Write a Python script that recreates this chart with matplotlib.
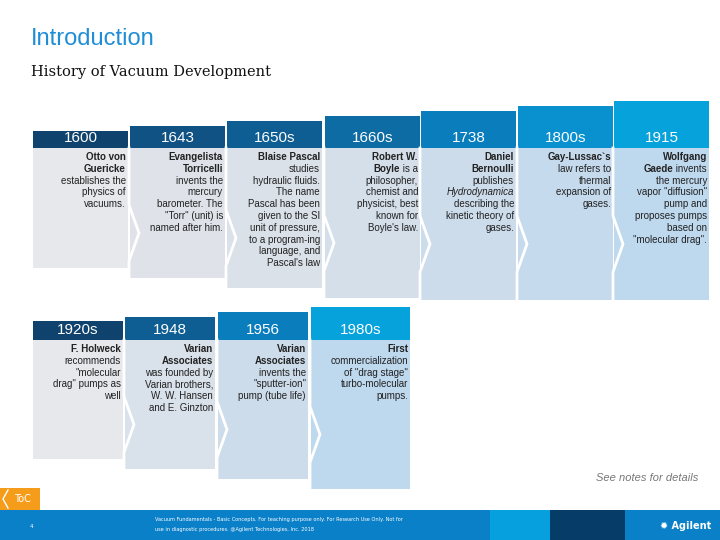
import matplotlib
matplotlib.use("Agg")
import matplotlib.pyplot as plt
from matplotlib.patches import Rectangle

# ---- content ----
top_years = ["1600", "1643", "1650s", "1660s", "1738", "1800s", "1915"]
top_texts = [
    [[("Otto von", "bold")], [("Guericke", "bold")], [("establishes the", "normal")],
     [("physics of", "normal")], [("vacuums.", "normal")]],
    [[("Evangelista", "bold")], [("Torricelli", "bold")], [("invents the", "normal")],
     [("mercury", "normal")], [("barometer. The", "normal")], [("\"Torr\" (unit) is", "normal")],
     [("named after him.", "normal")]],
    [[("Blaise Pascal", "bold")], [("studies", "normal")], [("hydraulic fluids.", "normal")],
     [("The name", "normal")], [("Pascal has been", "normal")], [("given to the SI", "normal")],
     [("unit of pressure,", "normal")], [("to a program-ing", "normal")],
     [("language, and", "normal")], [("Pascal's law", "normal")]],
    [[("Robert W.", "bold")], [("Boyle", "bold"), (" is a", "normal")], [("philosopher,", "normal")],
     [("chemist and", "normal")], [("physicist, best", "normal")], [("known for", "normal")],
     [("Boyle's law.", "normal")]],
    [[("Daniel", "bold")], [("Bernoulli", "bold")], [("publishes", "normal")],
     [("Hydrodynamica", "italic")], [("describing the", "normal")],
     [("kinetic theory of", "normal")], [("gases.", "normal")]],
    [[("Gay-Lussac`s", "bold")], [("law refers to", "normal")], [("thermal", "normal")],
     [("expansion of", "normal")], [("gases.", "normal")]],
    [[("Wolfgang", "bold")], [("Gaede", "bold"), (" invents", "normal")], [("the mercury", "normal")],
     [("vapor \"diffusion\"", "normal")], [("pump and", "normal")], [("proposes pumps", "normal")],
     [("based on", "normal")], [("\"molecular drag\".", "normal")]],
]
bot_years = ["1920s", "1948", "1956", "1980s"]
bot_texts = [
    [[("F. Holweck", "bold")], [("recommends", "normal")], [("\"molecular", "normal")],
     [("drag\" pumps as", "normal")], [("well", "normal")]],
    [[("Varian", "bold")], [("Associates", "bold")], [("was founded by", "normal")],
     [("Varian brothers,", "normal")], [("W. W. Hansen", "normal")], [("and E. Ginzton", "normal")]],
    [[("Varian", "bold")], [("Associates", "bold")], [("invents the", "normal")],
     [("\"sputter-ion\"", "normal")], [("pump (tube life)", "normal")]],
    [[("First", "bold")], [("commercialization", "normal")], [("of \"drag stage\"", "normal")],
     [("turbo-molecular", "normal")], [("pumps.", "normal")]],
]

# ---- layout ----
top_x = [33, 130, 227, 325, 421, 518, 614]
top_w = 95
top_htop = [131, 126, 121, 116, 111, 106, 101]
top_bottom = [268, 278, 288, 298, 300, 300, 300]
bot_x = [33, 125, 218, 311]
bot_w = [90, 90, 90, 99]
bot_htop = [321, 317, 312, 307]
bot_bottom = [459, 469, 479, 489]
head_cols_top = ["#0f426d", "#105283", "#0f5e93", "#0d6ca4", "#0a7dbc", "#0890cf", "#06a2dc"]
body_cols_top = ["#e6e8ec", "#dfe3e9", "#dae1e9", "#d4dfea", "#cddceb", "#c5daed", "#bed8ee"]
head_cols_bot = ["#0f426d", "#0f5e93", "#0a7dbc", "#06a2dc"]
body_cols_bot = ["#e6e8ec", "#d9e1ea", "#cddceb", "#bed8ee"]

fig = plt.figure(figsize=(7.2, 5.4), dpi=100)
ax = fig.add_axes([0, 0, 1, 1])
ax.set_xlim(0, 720)
ax.set_ylim(540, 0)
ax.axis("off")
renderer = fig.canvas.get_renderer()

FS = 7


def draw_lines(xr, ytop, lines):
    for i, segs in enumerate(lines):
        y = ytop + i * 11.8
        x = xr
        for txt, style in reversed(segs):
            t = ax.text(x, y, txt, ha="right", va="top", fontsize=FS, color="#222222",
                        family="Liberation Sans",
                        fontweight="bold" if style == "bold" else "normal",
                        fontstyle="italic" if style == "italic" else "normal")
            bb = t.get_window_extent(renderer)
            x -= bb.width  # pixels == data units here


def chevron(x, top, bottom):
    mid = (top + bottom) / 2 + 20
    ax.plot([x, x, x + 10, x, x], [top, mid - 28, mid, mid + 28, bottom],
            color="white", lw=2, solid_joinstyle="miter")


def panel(x, w, htop, hbot, bottom, year, lines, hc, bc, first):
    ax.add_patch(Rectangle((x, hbot), w, bottom - hbot, color=bc, lw=0))
    ax.add_patch(Rectangle((x, htop), w, hbot - htop, color=hc, lw=0))
    ax.text(x + w / 2, hbot - 3, year, ha="center", va="bottom", fontsize=11,
            color="white", family="Liberation Sans")
    draw_lines(x + w - 2, hbot + 4, lines)
    if not first:
        chevron(x - 1, hbot, bottom)


for i in range(len(top_years)):
    panel(top_x[i], top_w, top_htop[i], 148, top_bottom[i], top_years[i], top_texts[i],
          head_cols_top[i], body_cols_top[i], i == 0)
for i in range(len(bot_years)):
    panel(bot_x[i], bot_w[i], bot_htop[i], 340, bot_bottom[i], bot_years[i], bot_texts[i],
          head_cols_bot[i], body_cols_bot[i], i == 0)

ax.text(31, 39, "Introduction", fontsize=17, color="#1f8ed6", va="center", ha="left",
        family="Liberation Sans")
ax.text(31, 72, "History of Vacuum Development", fontsize=10.5, family="DejaVu Serif",
        color="#111111", va="center", ha="left")
ax.text(698, 478, "See notes for details", fontsize=8, style="italic", color="#777777",
        ha="right", va="center", family="Liberation Sans")

# footer
ax.add_patch(Rectangle((0, 488), 40, 22, color="#f59c1a", lw=0))
ax.text(14, 499, "ToC", fontsize=7, color="white", va="center")
ax.plot([8, 3, 8], [490, 499, 508], color="white", lw=1)
ax.add_patch(Rectangle((0, 510), 720, 30, color="#0a80c9", lw=0))
ax.add_patch(Rectangle((490, 510), 60, 30, color="#05a0dd", lw=0))
ax.add_patch(Rectangle((550, 510), 75, 30, color="#063d68", lw=0))
ax.text(30, 526, "4", fontsize=4, color="white", va="center")
ax.text(155, 520, "Vacuum Fundamentals - Basic Concepts. For teaching purpose only. For Research Use Only. Not for",
        fontsize=3.6, color="white", va="center")
ax.text(155, 530, "use in diagnostic procedures. @Agilent Technologies, Inc. 2018",
        fontsize=3.6, color="white", va="center")
ax.text(660, 526, "\u2739 Agilent", fontsize=7, color="white", fontweight="bold", va="center")

fig.savefig("out.png", dpi=100)
